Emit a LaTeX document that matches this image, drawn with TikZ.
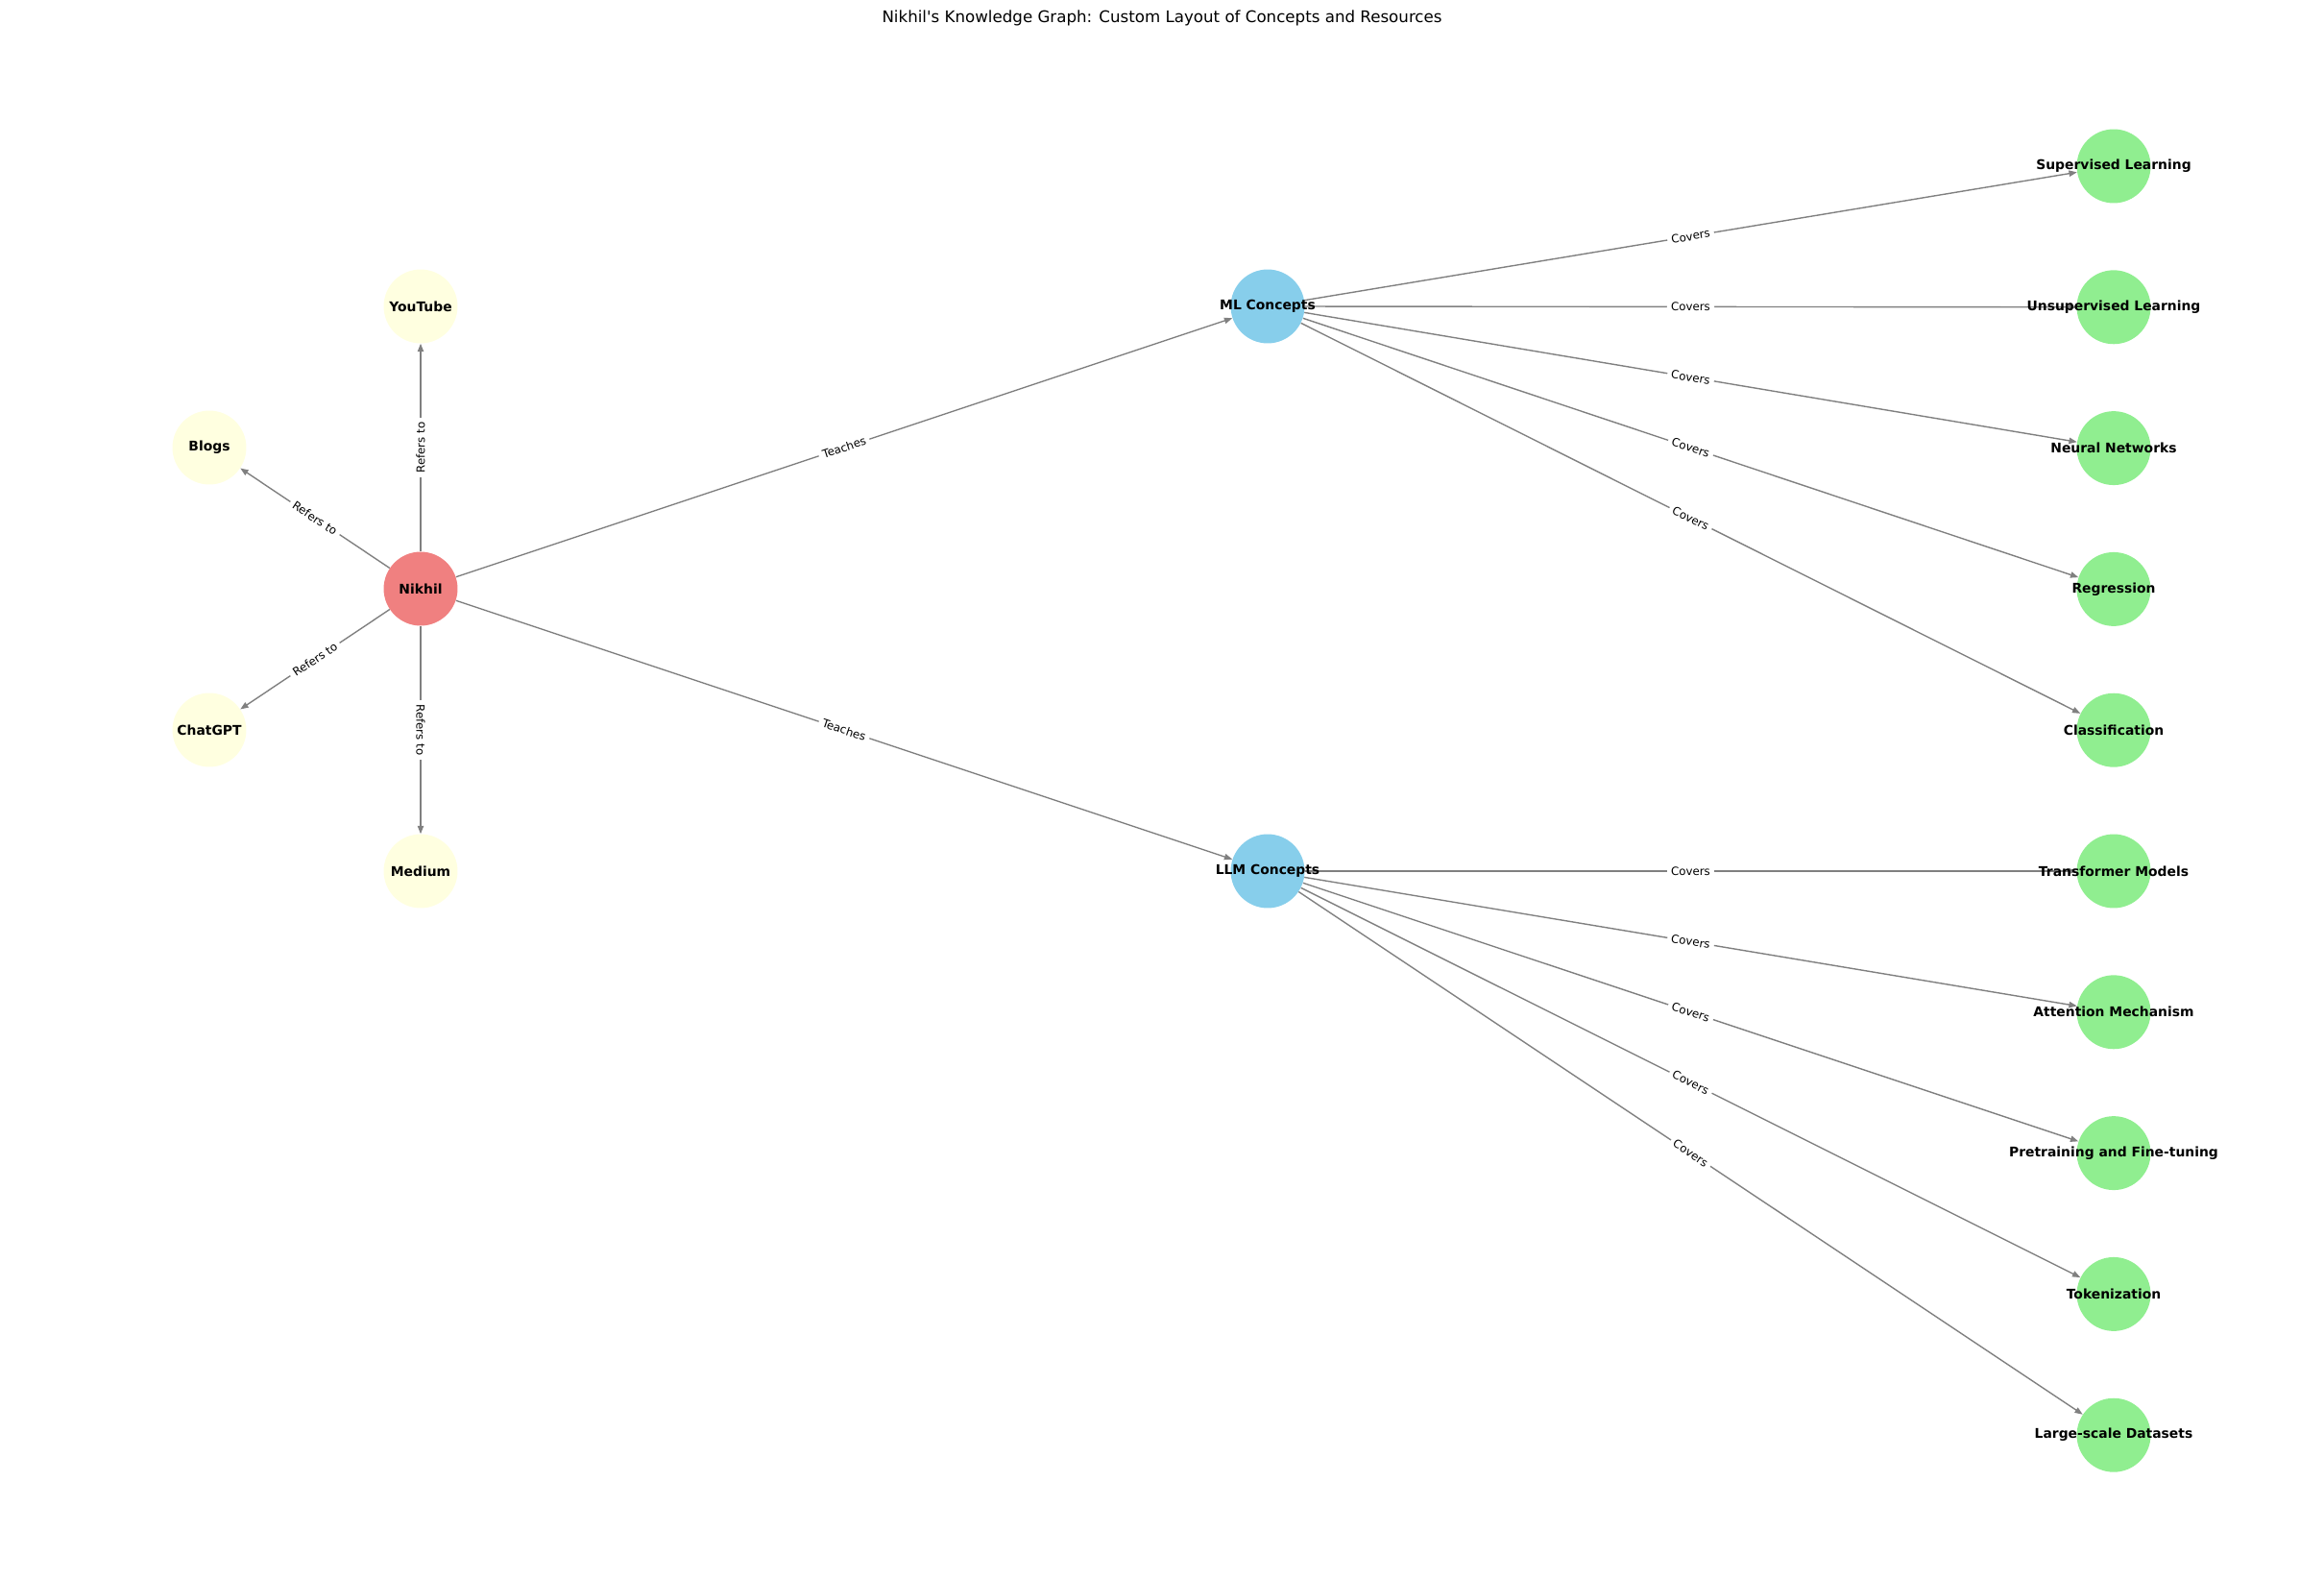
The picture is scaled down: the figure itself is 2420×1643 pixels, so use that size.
\documentclass[tikz,border=0pt]{standalone}
\usepackage{fontspec}
\setmainfont{DejaVu Sans}
\usepackage{tikz}
\usetikzlibrary{arrows.meta,backgrounds}
\definecolor{lcoral}{HTML}{F08080}
\definecolor{skyb}{HTML}{87CEEB}
\definecolor{lgreen}{HTML}{90EE90}
\definecolor{lyellow}{HTML}{FFFFE0}
\definecolor{edgegray}{HTML}{808080}

\begin{document}
\begin{tikzpicture}[x=0.72pt,y=-0.72pt,line cap=butt,
    vertex/.style={circle,minimum size=55.4pt,inner sep=0pt,
      label={[font=\fontsize{10}{12}\selectfont\bfseries]center:#1}},
    person/.style={vertex=#1,fill=lcoral},
    topic/.style={vertex=#1,fill=skyb},
    concept/.style={vertex=#1,fill=lgreen},
    source/.style={vertex=#1,fill=lyellow},
    edge/.style={draw=edgegray,line width=1pt,-{Triangle[length=6pt,width=4.5pt]}},
    elabel/.style={fill=white,inner xsep=3pt,inner ysep=1pt,sloped,
      font=\fontsize{8.5}{10}\selectfont}]
  \useasboundingbox (0,0) rectangle (2420,1643);
  \node[font=\fontsize{12}{14}\selectfont] (title) at (1210,19)
        {Nikhil\textquotesingle s Knowledge Graph: Custom Layout of Concepts and Resources};
  % centro y recursos
  \node[person=Nikhil] (nikhil) at (438,613) {};
  \node[source=YouTube] (youtube) at (438,319) {};
  \node[source=Blogs] (blogs) at (218,466) {};
  \node[source=ChatGPT] (chatgpt) at (218,760) {};
  \node[source=Medium] (medium) at (438,907) {};
  % temas
  \node[topic=ML Concepts] (ml) at (1320,319) {};
  \node[topic=LLM Concepts] (llm) at (1320,907) {};
  % conceptos
  \foreach \name/\txt [count=\i] in {sup/Supervised Learning,
      uns/Unsupervised Learning, nn/Neural Networks, reg/Regression,
      cls/Classification, tra/Transformer Models, att/Attention Mechanism,
      pre/Pretraining and Fine-tuning, tok/Tokenization,
      lsd/Large-scale Datasets}{
    \node[concept=\txt] (\name) at (2201,{173+(\i-1)*146.8}) {};
  }
  % aristas
  \begin{scope}[on background layer]
    \foreach \t in {youtube,blogs,chatgpt,medium}{
      \draw[edge] (nikhil) -- node[elabel]{Refers to} (\t);
    }
    \foreach \t in {ml,llm}{
      \draw[edge] (nikhil) -- node[elabel]{Teaches} (\t);
    }
    \foreach \t in {sup,uns,nn,reg,cls}{
      \draw[edge] (ml) -- node[elabel]{Covers} (\t);
    }
    \foreach \t in {tra,att,pre,tok,lsd}{
      \draw[edge] (llm) -- node[elabel]{Covers} (\t);
    }
  \end{scope}
\end{tikzpicture}
\end{document}
